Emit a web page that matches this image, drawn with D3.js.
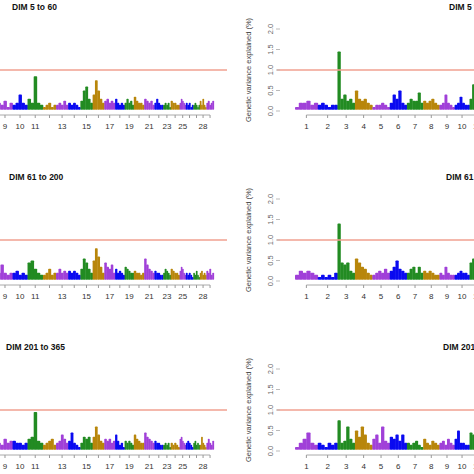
<!DOCTYPE html>
<html>
<head>
<meta charset="utf-8">
<script src="https://cdn.jsdelivr.net/npm/d3@7"></script>
<style>
	body { margin: 0; background: #fff; }
	svg { display: block; }
</style>
</head>
<body>
<svg id="chart" width="474" height="474"></svg>
<script>
// chromosome lengths (Mb), chr 1..29
var chrLengths = [158, 137, 121, 121, 121, 119, 113, 113, 105, 104, 107, 91, 84, 85, 85, 81, 75, 66, 64, 72, 71, 61, 52, 62, 43, 52, 45, 46, 51];
var chrColors = ["#a040d8", "#0a0af0", "#228b22", "#b8860b"];
var titles = ["DIM 5 to 60", "DIM 61 to 200", "DIM 201 to 365"];
var leftLabels = [9, 10, 11, 13, 15, 17, 19, 21, 23, 25, 28];
var yTicks = [0, 0.5, 1, 1.5, 2];
var threshold = 1;

// left column: chr 8..29, right column: chr 1..11
var left1 = [
	[0.1,0.15,0.2,0.1,0.15],[0.2,0.15,0.25,0.1,0.2],[0.15,0.2,0.4,0.2,0.15],[0.3,0.2,0.85,0.2,0.15],
	[0.1,0.15,0.2,0.1,0.15],[0.15,0.2,0.15,0.25,0.15],[0.2,0.15,0.2,0.15,0.1],[0.25,0.5,0.6,0.3,0.2],
	[0.4,0.75,0.5,0.3,0.2],[0.25,0.3,0.2,0.25,0.2],[0.3,0.2,0.15,0.2,0.15],[0.2,0.3,0.2,0.25,0.15],
	[0.35,0.25,0.2,0.2,0.15],[0.3,0.25,0.2,0.25,0.15],[0.2,0.3,0.2,0.15,0.15],[0.15,0.2,0.15,0.2,0.1],
	[0.25,0.2,0.2,0.15,0.15],[0.2,0.3,0.25,0.2,0.15],[0.2,0.15,0.2,0.1,0.15],[0.15,0.2,0.15,0.1,0.15],
	[0.25,0.15,0.3,0.15,0.1],[0.2,0.25,0.15,0.2,0.25]
];
var left2 = [
	[0.15,0.2,0.15,0.1,0.2],[0.2,0.4,0.2,0.15,0.2],[0.2,0.25,0.15,0.2,0.15],[0.45,0.5,0.3,0.2,0.15],
	[0.15,0.2,0.3,0.15,0.2],[0.2,0.3,0.2,0.25,0.2],[0.25,0.2,0.25,0.2,0.15],[0.3,0.55,0.45,0.3,0.2],
	[0.5,0.8,0.6,0.35,0.2],[0.45,0.35,0.3,0.4,0.2],[0.3,0.2,0.25,0.2,0.15],[0.35,0.3,0.25,0.2,0.2],
	[0.25,0.2,0.2,0.15,0.2],[0.55,0.4,0.3,0.25,0.2],[0.25,0.2,0.2,0.15,0.15],[0.2,0.3,0.25,0.2,0.15],
	[0.3,0.25,0.2,0.2,0.15],[0.25,0.35,0.3,0.2,0.15],[0.2,0.15,0.2,0.15,0.1],[0.2,0.15,0.25,0.15,0.1],
	[0.2,0.25,0.15,0.2,0.15],[0.25,0.2,0.3,0.15,0.2]
];
var left3 = [
	[0.15,0.2,0.15,0.2,0.15],[0.2,0.15,0.3,0.2,0.25],[0.25,0.2,0.2,0.15,0.2],[0.3,0.35,0.95,0.25,0.2],
	[0.15,0.2,0.25,0.3,0.15],[0.2,0.25,0.4,0.3,0.2],[0.25,0.45,0.2,0.15,0.1],[0.2,0.35,0.3,0.35,0.2],
	[0.35,0.6,0.4,0.25,0.2],[0.3,0.25,0.3,0.2,0.25],[0.4,0.25,0.15,0.2,0.1],[0.25,0.2,0.25,0.2,0.15],
	[0.4,0.3,0.25,0.2,0.2],[0.45,0.35,0.3,0.25,0.2],[0.25,0.2,0.2,0.15,0.15],[0.15,0.2,0.15,0.2,0.1],
	[0.2,0.15,0.2,0.15,0.1],[0.3,0.35,0.25,0.2,0.15],[0.2,0.25,0.2,0.15,0.1],[0.2,0.25,0.15,0.2,0.15],
	[0.15,0.35,0.2,0.15,0.1],[0.2,0.3,0.2,0.15,0.25]
];
var right1 = [
	[0.1,0.2,0.2,0.25,0.15,0.2],[0.15,0.2,0.15,0.1,0.15,0.15],[1.45,0.3,0.4,0.25,0.3,0.2],[0.5,0.3,0.25,0.3,0.2,0.15],
	[0.1,0.15,0.15,0.2,0.15,0.1],[0.2,0.4,0.3,0.5,0.2,0.15],[0.2,0.3,0.25,0.25,0.45,0.2],[0.25,0.2,0.25,0.3,0.2,0.15],
	[0.15,0.2,0.4,0.2,0.15,0.1],[0.15,0.2,0.35,0.2,0.15,0.15],[0.3,0.65,0.4,0.3,0.2,0.2]
];
var right2 = [
	[0.15,0.25,0.2,0.25,0.2,0.15],[0.1,0.15,0.1,0.15,0.1,0.2],[1.4,0.45,0.4,0.45,0.25,0.2],[0.55,0.45,0.35,0.3,0.2,0.15],
	[0.15,0.2,0.25,0.2,0.3,0.2],[0.25,0.35,0.5,0.3,0.25,0.2],[0.2,0.3,0.35,0.2,0.35,0.2],[0.25,0.2,0.25,0.2,0.15,0.15],
	[0.2,0.15,0.35,0.2,0.15,0.15],[0.15,0.2,0.25,0.2,0.2,0.15],[0.45,0.55,0.35,0.3,0.2,0.2]
];
var right3 = [
	[0.1,0.2,0.3,0.45,0.2,0.15],[0.2,0.15,0.1,0.2,0.15,0.2],[0.75,0.2,0.25,0.6,0.3,0.2],[0.5,0.35,0.6,0.4,0.2,0.15],
	[0.3,0.4,0.2,0.6,0.25,0.2],[0.35,0.3,0.4,0.25,0.4,0.2],[0.2,0.15,0.2,0.25,0.15,0.1],[0.3,0.2,0.15,0.25,0.2,0.15],
	[0.2,0.25,0.15,0.3,0.2,0.15],[0.3,0.5,0.2,0.2,0.15,0.15],[0.45,0.4,0.9,0.3,0.2,0.2]
];

var svg = d3.select("#chart");
var mbPx = 0.144;
var chrStart = [0];
chrLengths.forEach(function(l, i) { chrStart.push(chrStart[i] + l); });
var genome = chrStart[chrLengths.length];

function drawPanel(opts) {
	var x = d3.scaleLinear().domain([0, genome]).range([opts.origin, opts.origin + genome * mbPx]);
	var y = d3.scaleLinear().domain([0, 2]).range([opts.base, opts.base - 82]);
	var g = svg.append("g");

	// bars of points per chromosome
	opts.data.forEach(function(vals, j) {
		var c = opts.firstChr + j - 1;
		var w = chrLengths[c] / vals.length;
		g.selectAll(null).data(vals).enter().append("rect")
			.attr("x", function(d, i) { return x(chrStart[c] + i * w); })
			.attr("width", x(w) - x(0) + 0.4)
			.attr("y", function(d) { return y(d); })
			.attr("height", function(d) { return y(0.03) - y(d); })
			.attr("rx", 0.8)
			.style("fill", chrColors[c % 4]);
	});

	// threshold
	g.append("line")
		.attr("x1", opts.lineX[0]).attr("x2", opts.lineX[1])
		.attr("y1", y(threshold)).attr("y2", y(threshold))
		.style("stroke", "#f0a090").style("stroke-width", 1.5);

	// x axis
	var centers = d3.range(opts.firstChr, opts.firstChr + opts.data.length).map(function(n) {
		return { chr: n, pos: chrStart[n - 1] + chrLengths[n - 1] / 2 };
	});
	var ay = opts.base + 4;
	g.append("line")
		.attr("x1", x(centers[0].pos)).attr("x2", x(centers[centers.length - 1].pos))
		.attr("y1", ay).attr("y2", ay)
		.style("stroke", "#aaa").style("stroke-width", 1);
	g.selectAll(null).data(centers).enter().append("line")
		.attr("x1", function(d) { return x(d.pos); }).attr("x2", function(d) { return x(d.pos); })
		.attr("y1", ay).attr("y2", ay + 3)
		.style("stroke", "#999");
	g.selectAll(null).data(centers.filter(function(d) { return opts.labels.indexOf(d.chr) >= 0; })).enter().append("text")
		.attr("x", function(d) { return x(d.pos); })
		.attr("y", ay + 14)
		.attr("text-anchor", "middle")
		.style("font", "8px 'Liberation Sans', Arial, sans-serif")
		.style("fill", "#333")
		.text(function(d) { return d.chr; });

	// y axis
	if (opts.yAxis) {
		g.selectAll(null).data(yTicks).enter().append("line")
			.attr("x1", 276).attr("x2", 280)
			.attr("y1", function(d) { return y(d); }).attr("y2", function(d) { return y(d); })
			.style("stroke", "#bbb");
		g.selectAll(null).data(yTicks).enter().append("text")
			.attr("transform", function(d) { return "translate(273," + y(d) + ") rotate(-90)"; })
			.attr("text-anchor", "middle")
			.style("font", "7.5px 'Liberation Sans', Arial, sans-serif")
			.style("fill", "#666")
			.text(function(d) { return d.toFixed(1); });
		g.append("text")
			.attr("transform", "translate(251," + y(1) + ") rotate(-90)")
			.attr("text-anchor", "middle")
			.style("font", "7.5px 'Liberation Sans', Arial, sans-serif")
			.style("fill", "#444")
			.text("Genetic variance explained (%)");
	}

	g.append("text")
		.attr("x", opts.titleX).attr("y", opts.base - 101)
		.style("font", "bold 8.5px 'Liberation Sans', Arial, sans-serif")
		.style("fill", "#111")
		.text(opts.title);
}

var leftData = [left1, left2, left3];
var rightData = [right1, right2, right3];
[0, 1, 2].forEach(function(r) {
	var base = 111 + r * 170;
	drawPanel({ data: leftData[r], firstChr: 8, origin: -147, base: base, lineX: [0, 227],
		labels: leftLabels, yAxis: false, title: titles[r], titleX: 12 - r * 3 });
	drawPanel({ data: rightData[r], firstChr: 1, origin: 295, base: base, lineX: [277, 474],
		labels: d3.range(1, 12), yAxis: true, title: titles[r], titleX: 449 - r * 3 });
});
</script>
</body>
</html>
